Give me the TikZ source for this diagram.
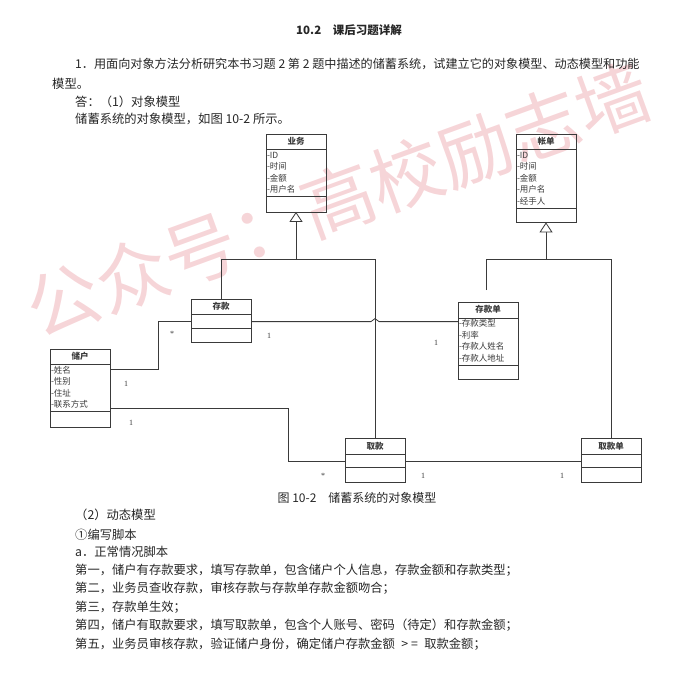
\documentclass[tikz,border=0pt]{standalone}
\usepackage{fontspec}
\setmainfont{Liberation Serif}
\newfontfamily\cjk{Noto Sans CJK SC}
\usetikzlibrary{positioning}
\usetikzlibrary{shapes.multipart}
\usetikzlibrary{arrows.meta}

\definecolor{inkgray}{HTML}{3A3A3A}
\definecolor{stampred}{HTML}{F6D5D8}

\newcommand{\cname}[1]{\rule[-5pt]{0pt}{15pt}{\bfseries #1}}
\newcommand{\cgap}[1]{\rule{0pt}{#1pt}}
\newcommand{\attrs}[1]{\begin{tabular}{@{}l@{}}#1\end{tabular}}

\begin{document}
\begin{tikzpicture}[x=1pt,y=-1pt]
		\tikzset{classbox/.style = {draw=inkgray, line width=0.8pt, rectangle split, rectangle split parts=3,
			rectangle split part align={center,left,center}, minimum width=60pt, inner xsep=1pt, inner ysep=0pt,
			outer sep=0pt, text=inkgray, font=\cjk\fontsize{8.5}{11.5}\selectfont}}
		\tikzset{edge/.style = {draw=inkgray, line width=0.8pt}}
		\tikzset{inherit/.style = {edge, -{Triangle[open,fill=white,length=10pt,width=13pt]}}}
		\tikzset{mult/.style = {text=inkgray, inner sep=0pt, font=\fontsize{8}{8}\selectfont}}
		\tikzset{bodyline/.style = {anchor=west, inner sep=0pt, text=black!85, font=\cjk\fontsize{12.3}{12.3}\selectfont}}
		\useasboundingbox (0,0) rectangle (688,690);
		% watermark
		\node[rotate=20, text=stampred, inner sep=0pt, font=\cjk\fontsize{73}{73}\selectfont] (stamp) at (338,200) {公众号：高校励志墙};
		% page text
		\node[anchor=center, inner sep=0pt, text=black!85, font=\cjk\bfseries\fontsize{11.5}{12}\selectfont] (title) at (349,30) {10.2\hspace{1em}课后习题详解};
		\node[bodyline, font=\cjk\fontsize{12.12}{12.12}\selectfont] (q1) at (75,64) {1．用面向对象方法分析研究本书习题 2 第 2 题中描述的储蓄系统，试建立它的对象模型、动态模型和功能};
		\node[bodyline] (q2) at (52,84) {模型。};
		\node[bodyline] (a1) at (75,102) {答：（1）对象模型};
		\node[bodyline] (a2) at (75,119) {储蓄系统的对象模型，如图 10-2 所示。};
		\node[inner sep=0pt, text=black!85, font=\cjk\fontsize{12}{12}\selectfont] (caption) at (357,498) {图 10-2\hspace{1em}储蓄系统的对象模型};
		\node[bodyline] (b1) at (75,515) {（2）动态模型};
		\node[bodyline] (b2) at (75,535) {①编写脚本};
		\node[bodyline] (b3) at (75,552) {a．正常情况脚本};
		\node[bodyline] (b4) at (75,570) {第一，储户有存款要求，填写存款单，包含储户个人信息，存款金额和存款类型；};
		\node[bodyline] (b5) at (75,588) {第二，业务员查收存款，审核存款与存款单存款金额吻合；};
		\node[bodyline] (b6) at (75,607) {第三，存款单生效；};
		\node[bodyline] (b7) at (75,625) {第四，储户有取款要求，填写取款单，包含个人账号、密码（待定）和存款金额；};
		\node[bodyline] (b8) at (75,644) {第五，业务员审核存款，验证储户身份，确定储户存款金额\hspace{0.3em} > = \hspace{0.3em}取款金额；};
		% classes
		\node[classbox, anchor=north west] (business) at (266,134) {\cname{业务}\nodepart{two}\attrs{-ID\\-时间\\-金额\\-用户名}\nodepart{three}\cgap{14.5}};
		\node[classbox, anchor=north west] (bill) at (516,134) {\cname{帐单}\nodepart{two}\attrs{-ID\\-时间\\-金额\\-用户名\\-经手人}\nodepart{three}\cgap{13.5}};
		\node[classbox, below left=87pt and 15pt of business] (deposit) {\cname{存款}\nodepart{two}\cgap{13}\nodepart{three}\cgap{13.5}};
		\node[classbox, below right=96pt and 94pt of deposit] (withdraw) {\cname{取款}\nodepart{two}\cgap{12}\nodepart{three}\cgap{14.5}};
		\node[classbox, right=176pt of withdraw] (withdrawslip) {\cname{取款单}\nodepart{two}\cgap{12}\nodepart{three}\cgap{14.5}};
		\node[classbox, below left=80pt and -2pt of bill] (depositslip) {\cname{存款单}\nodepart{two}\attrs{-存款类型\\-利率\\-存款人姓名\\-存款人地址}\nodepart{three}\cgap{13.5}};
		\node[classbox, anchor=north west] (customer) at (50,349) {\cname{储户}\nodepart{two}\attrs{-姓名\\-性别\\-住址\\-联系方式}\nodepart{three}\cgap{14.5}};
		% bends
		\coordinate (busjoin) at (business.south |- 0,259);
		\coordinate (billjoin) at (bill.south |- 0,259);
		\coordinate (hopleft) at (deposit.two east -| 371,0);
		\coordinate (hopright) at (deposit.two east -| 379,0);
		\coordinate (hoptop) at ([yshift=3pt]deposit.two east -| 375,0);
		\coordinate (custdepa) at (110,369);
		\coordinate (custdepb) at (158,369);
		\coordinate (custwita) at (110,408);
		\coordinate (custwitb) at (288,408);
		\coordinate (slipend) at (486,290);
		% inheritance
		\draw[inherit] (busjoin) -- (business.south);
		\draw[inherit] (billjoin) -- (bill.south);
		\draw[edge] (deposit.north -| 221,0) -- (221,259) -- (375,259) -- (withdraw.north);
		\draw[edge] (slipend) -- (486,259) -- (611,259) -- (withdrawslip.north);
		% associations
		\draw[edge] (custdepa) -- (custdepb) -- (custdepb |- deposit.two west) -- (deposit.two west);
		\draw[edge] (custwita) -- (custwitb) -- (custwitb |- withdraw.two west) -- (withdraw.two west);
		\draw[edge] (deposit.two east) -- (hopleft) to[out=0,in=180] (hoptop) to[out=0,in=180] (hopright) -- (hopright -| depositslip.west);
		\draw[edge] (withdraw.two east) -- (withdrawslip.two west);
		% multiplicities
		\node[mult] (m1) at (172,334) {*};
		\node[mult] (m2) at (269,336) {1};
		\node[mult] (m3) at (436,343) {1};
		\node[mult] (m4) at (126,384) {1};
		\node[mult] (m5) at (131,423) {1};
		\node[mult] (m6) at (323,476) {*};
		\node[mult] (m7) at (423,476) {1};
		\node[mult] (m8) at (562,476) {1};
	\end{tikzpicture}
\end{document}
